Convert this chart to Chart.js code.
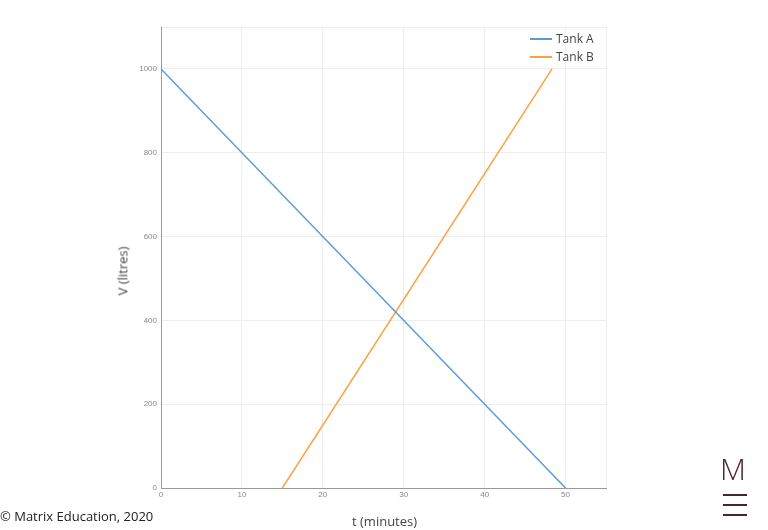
<!DOCTYPE html>
<html><head><meta charset="utf-8">
<script src="https://cdn.jsdelivr.net/npm/chart.js@4"></script>
<style>
body{margin:0;width:768px;height:530px;overflow:hidden;background:#fff;font-family:"Open Sans",sans-serif;}
#wrap{position:relative;width:768px;height:530px;}
canvas{position:absolute;left:0;top:0;}
.t{position:absolute;color:#444;font-size:12px;white-space:nowrap;}
</style></head><body>
<div id="wrap"><canvas id="c" width="768" height="530"></canvas>
<div class="t" style="left:352px;top:512px;font-size:13px;">t (minutes)</div>
<div class="t" style="left:98px;top:262px;font-size:13px;transform:rotate(-90deg);">V (litres)</div>
<div class="t" style="left:556px;top:30px;">Tank A</div>
<div class="t" style="left:556px;top:48px;">Tank B</div>
<div style="position:absolute;left:530px;top:38px;width:22px;height:2px;background:#5b9bd5;"></div>
<div style="position:absolute;left:530px;top:56px;width:22px;height:2px;background:#ff9f40;"></div>
<div class="t" style="left:0px;top:507px;font-size:13px;color:#222;">© Matrix Education, 2020</div>
<div class="t" style="left:720px;top:448px;font-size:30px;color:#4a2233;font-weight:300;">M</div>
<div style="position:absolute;left:723px;top:494px;width:24px;height:2px;background:#4a2233;"></div>
<div style="position:absolute;left:723px;top:504px;width:24px;height:2px;background:#4a2233;"></div>
<div style="position:absolute;left:723px;top:514px;width:24px;height:2px;background:#4a2233;"></div>
</div>
<script>
const tankA = [{x:0,y:1000},{x:50,y:0}];
const tankB = [{x:15,y:0},{x:48.33,y:1000}];
const seriesNames = ["Tank A","Tank B"];
new Chart(document.getElementById('c'),{
  type:'line',
  data:{datasets:[
    {label:seriesNames[0],data:tankA,borderColor:'#5b9bd5',borderWidth:1.5,pointRadius:0,fill:false},
    {label:seriesNames[1],data:tankB,borderColor:'#ff9f40',borderWidth:1.5,pointRadius:0,fill:false}
  ]},
  options:{responsive:false,animation:false,
    layout:{padding:{left:0,right:162,top:27,bottom:0}},
    plugins:{legend:{display:false},tooltip:{enabled:false}},
    scales:{
      x:{type:'linear',min:0,max:55,afterFit:s=>{s.height=42;},
        ticks:{stepSize:10,color:'#888',font:{size:8},padding:2,callback:v=>v%10===0&&v<=50?v:''},
        grid:{color:'#eeeeee',drawTicks:false},border:{color:'#999'}},
      y:{min:0,max:1100,afterFit:s=>{s.width=161;},
        ticks:{stepSize:200,color:'#888',font:{size:8},padding:4,callback:v=>v<=1000?v:''},
        grid:{color:'#eeeeee',drawTicks:false},border:{color:'#999'}}
    }}
});
</script></body></html>
